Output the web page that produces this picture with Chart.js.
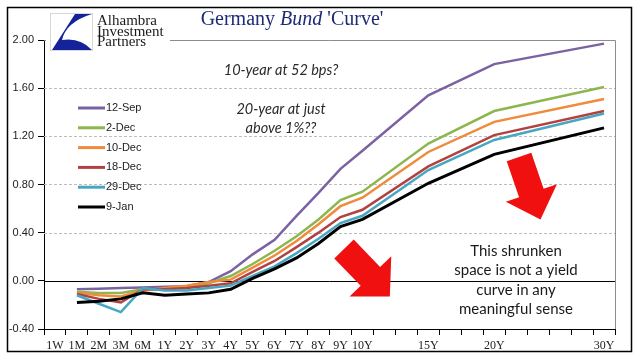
<!DOCTYPE html>
<html>
<head>
<meta charset="utf-8">
<script src="https://cdn.jsdelivr.net/npm/chart.js@4"></script>
<style>
  html, body { margin: 0; padding: 0; background: #fff; }
  #wrap { width: 640px; height: 360px; }
</style>
</head>
<body>
<div id="wrap"><canvas id="graphCanvas" width="640" height="360"></canvas></div>
<script>
// Maturities (blank slots keep the spacing between 10Y, 15Y, 20Y and 30Y)
const maturities = ['1W', '1M', '2M', '3M', '6M', '1Y', '2Y', '3Y', '4Y', '5Y', '6Y', '7Y', '8Y', '9Y', '10Y',
    '', '', '15Y', '', '', '20Y', '', '', '', '', '30Y'];

// Yields in %, null where there is no point
const sep12 = [null, -0.07, -0.065, -0.06, -0.055, -0.05, -0.045, -0.01, 0.08, 0.22, 0.34, 0.54, 0.73, 0.93, 1.08,
    null, null, 1.54, null, null, 1.80, null, null, null, null, 1.97];
const dec2 = [null, -0.09, -0.10, -0.10, -0.07, -0.07, -0.05, -0.02, 0.04, 0.14, 0.25, 0.37, 0.51, 0.67, 0.74,
    null, null, 1.14, null, null, 1.41, null, null, null, null, 1.61];
const dec10 = [null, -0.10, -0.12, -0.13, -0.08, -0.06, -0.04, -0.01, 0.01, 0.11, 0.21, 0.33, 0.47, 0.62, 0.69,
    null, null, 1.07, null, null, 1.32, null, null, null, null, 1.51];
const dec18 = [null, -0.11, -0.15, -0.18, -0.07, -0.07, -0.06, -0.04, -0.02, 0.075, 0.165, 0.28, 0.40, 0.53, 0.59,
    null, null, 0.95, null, null, 1.21, null, null, null, null, 1.41];
const dec29 = [null, -0.12, -0.19, -0.26, -0.06, -0.08, -0.08, -0.06, -0.04, 0.04, 0.12, 0.23, 0.35, 0.48, 0.54,
    null, null, 0.92, null, null, 1.17, null, null, null, null, 1.39];
const jan9 = [null, -0.18, -0.17, -0.15, -0.10, -0.12, -0.11, -0.10, -0.07, 0.02, 0.10, 0.19, 0.31, 0.45, 0.51,
    null, null, 0.81, null, null, 1.05, null, null, null, null, 1.27];

const seriesNames = ['12-Sep', '2-Dec', '10-Dec', '18-Dec', '29-Dec', '9-Jan'];
const seriesValues = [sep12, dec2, dec10, dec18, dec29, jan9];
const seriesColors = ['#7B62A3', '#8DB64F', '#F08A3C', '#B2423F', '#47A7C2', '#000000'];

const yTicks = [-0.4, 0.0, 0.4, 0.8, 1.2, 1.6, 2.0];

// Frame, grid lines and plot border
const backgroundPlugin = {
    id: 'background',
    beforeDraw: (chart) => {
        const ctx = chart.ctx;
        ctx.save();
        ctx.fillStyle = '#fff';
        ctx.fillRect(0, 0, chart.width, chart.height);
        ctx.strokeStyle = '#000';
        ctx.lineWidth = 1.5;
        ctx.strokeRect(7.5, 7.5, 624, 344);
        ctx.restore();
    },
    beforeDatasetsDraw: (chart) => {
        const ctx = chart.ctx;
        const area = chart.chartArea;
        const y = chart.scales.y;
        ctx.save();
        yTicks.forEach(v => {
            const py = Math.round(y.getPixelForValue(v)) + 0.5;
            if (v === 0) {
                ctx.setLineDash([]);
                ctx.strokeStyle = '#000';
            } else if (v > 0 && v < 2) {
                ctx.setLineDash([3, 2]);
                ctx.strokeStyle = '#BDBDBD';
            } else {
                return;
            }
            ctx.lineWidth = 1;
            ctx.beginPath();
            ctx.moveTo(area.left, py);
            ctx.lineTo(area.right, py);
            ctx.stroke();
        });
        // top and right border of the plot area
        ctx.setLineDash([]);
        ctx.strokeStyle = '#8C8C8C';
        ctx.beginPath();
        ctx.moveTo(area.left, area.top + 0.5);
        ctx.lineTo(area.right + 0.5, area.top + 0.5);
        ctx.lineTo(area.right + 0.5, area.bottom);
        ctx.stroke();
        ctx.restore();
    }
};

// Big red arrow
const drawArrow = (ctx, x, y, angleDeg, shaftLen, shaftW, headLen, headW) => {
    ctx.save();
    ctx.translate(x, y);
    ctx.rotate(angleDeg * Math.PI / 180);
    ctx.fillStyle = '#F01010';
    ctx.beginPath();
    ctx.moveTo(0, -shaftW / 2);
    ctx.lineTo(shaftLen, -shaftW / 2);
    ctx.lineTo(shaftLen, -headW / 2);
    ctx.lineTo(shaftLen + headLen, 0);
    ctx.lineTo(shaftLen, headW / 2);
    ctx.lineTo(shaftLen, shaftW / 2);
    ctx.lineTo(0, shaftW / 2);
    ctx.closePath();
    ctx.fill();
    ctx.restore();
};

// Logo, title, legend and notes
const overlayPlugin = {
    id: 'overlay',
    afterDraw: (chart) => {
        const ctx = chart.ctx;
        ctx.save();

        // logo
        ctx.fillStyle = '#fff';
        ctx.fillRect(46, 10, 124, 32);
        ctx.strokeStyle = '#D8D8D8';
        ctx.lineWidth = 1;
        ctx.strokeRect(50.5, 13.5, 42, 37);
        ctx.fillStyle = '#14239A';
        ctx.beginPath();
        ctx.moveTo(52, 50);
        ctx.lineTo(75, 14);
        ctx.lineTo(92, 14);
        ctx.quadraticCurveTo(66, 22, 62, 40);
        ctx.quadraticCurveTo(80, 37, 92, 50);
        ctx.closePath();
        ctx.fill();
        ctx.fillStyle = '#1A1A1A';
        ctx.font = '15px "Liberation Serif"';
        ctx.textBaseline = 'middle';
        ctx.textAlign = 'left';
        ctx.fillText('Alhambra', 97, 21);
        ctx.fillText('Investment', 97, 32);
        ctx.fillText('Partners', 97, 42);

        // title
        ctx.fillStyle = '#1E2A78';
        const tf = '20px "Liberation Serif"';
        const tfi = 'italic 20px "Liberation Serif"';
        const t1 = 'Germany ';
        const t2 = 'Bund';
        const t3 = " 'Curve'";
        ctx.font = tf;
        const w1 = ctx.measureText(t1).width;
        const w3 = ctx.measureText(t3).width;
        ctx.font = tfi;
        const w2 = ctx.measureText(t2).width;
        const tx = 292 - (w1 + w2 + w3) / 2;
        ctx.font = tf;
        ctx.fillText(t1, tx, 20);
        ctx.font = tfi;
        ctx.fillText(t2, tx + w1, 20);
        ctx.font = tf;
        ctx.fillText(t3, tx + w1 + w2, 20);

        // legend
        ctx.font = '11px "Liberation Sans"';
        seriesNames.forEach((name, i) => {
            const ly = 108 + i * 19.8;
            ctx.strokeStyle = seriesColors[i];
            ctx.lineWidth = 3;
            ctx.beginPath();
            ctx.moveTo(78, ly);
            ctx.lineTo(105, ly);
            ctx.stroke();
            ctx.fillStyle = '#222';
            ctx.fillText(name, 106, ly);
        });

        // notes
        ctx.fillStyle = '#2A2A2A';
        ctx.textAlign = 'center';
        ctx.font = 'italic 14.5px Lato';
        ctx.fillText('10-year at 52 bps?', 281, 70);
        ctx.fillText('20-year at just', 281, 109);
        ctx.fillText('above 1%??', 281, 128);
        ctx.fillStyle = '#1A1A1A';
        ctx.font = '15px Lato';
        ['This shrunken', 'space is not a yield', 'curve in any', 'meaningful sense'].forEach((s, i) => {
            ctx.fillText(s, 516, 251 + i * 19.5);
        });

        drawArrow(ctx, 519, 157, 71, 38, 26, 28, 54);
        drawArrow(ctx, 344, 249, 46, 38, 27, 28, 58);

        ctx.restore();
    }
};

// Render the graph
const renderGraph = () => {
    const ctx = document.getElementById('graphCanvas').getContext('2d');
    new Chart(ctx, {
        type: 'line',
        data: {
            labels: maturities,
            datasets: seriesNames.map((name, i) => ({
                label: name,
                data: seriesValues[i],
                borderColor: seriesColors[i],
                borderWidth: i === 5 ? 3 : 2.5,
                pointRadius: 0,
                tension: 0,
                spanGaps: true,
                order: 5 - i
            }))
        },
        options: {
            responsive: false,
            animation: false,
            layout: { padding: { left: 8, right: 25, top: 40, bottom: 11 } },
            plugins: { legend: { display: false }, tooltip: { enabled: false } },
            scales: {
                x: {
                    offset: true,
                    grid: { offset: true, drawOnChartArea: false, drawTicks: true, tickLength: 6, tickColor: '#000' },
                    border: { color: '#000', width: 1 },
                    ticks: {
                        autoSkip: false, maxRotation: 0, padding: 4, color: '#222',
                        font: { family: '"Liberation Serif"', size: 12 }
                    },
                    afterFit: (s) => { s.height = 20; }
                },
                y: {
                    min: -0.4,
                    max: 2.0,
                    grid: { drawOnChartArea: false, drawTicks: true, tickLength: 6, tickColor: '#000' },
                    border: { color: '#000', width: 1 },
                    ticks: {
                        stepSize: 0.4, padding: 4, color: '#222',
                        font: { family: '"Liberation Sans"', size: 11 },
                        callback: (v) => (Math.abs(v) < 1e-9 ? 0 : Number(v)).toFixed(2)
                    },
                    afterFit: (s) => { s.width = 36; }
                }
            }
        },
        plugins: [backgroundPlugin, overlayPlugin]
    });
};

renderGraph();
</script>
</body>
</html>
